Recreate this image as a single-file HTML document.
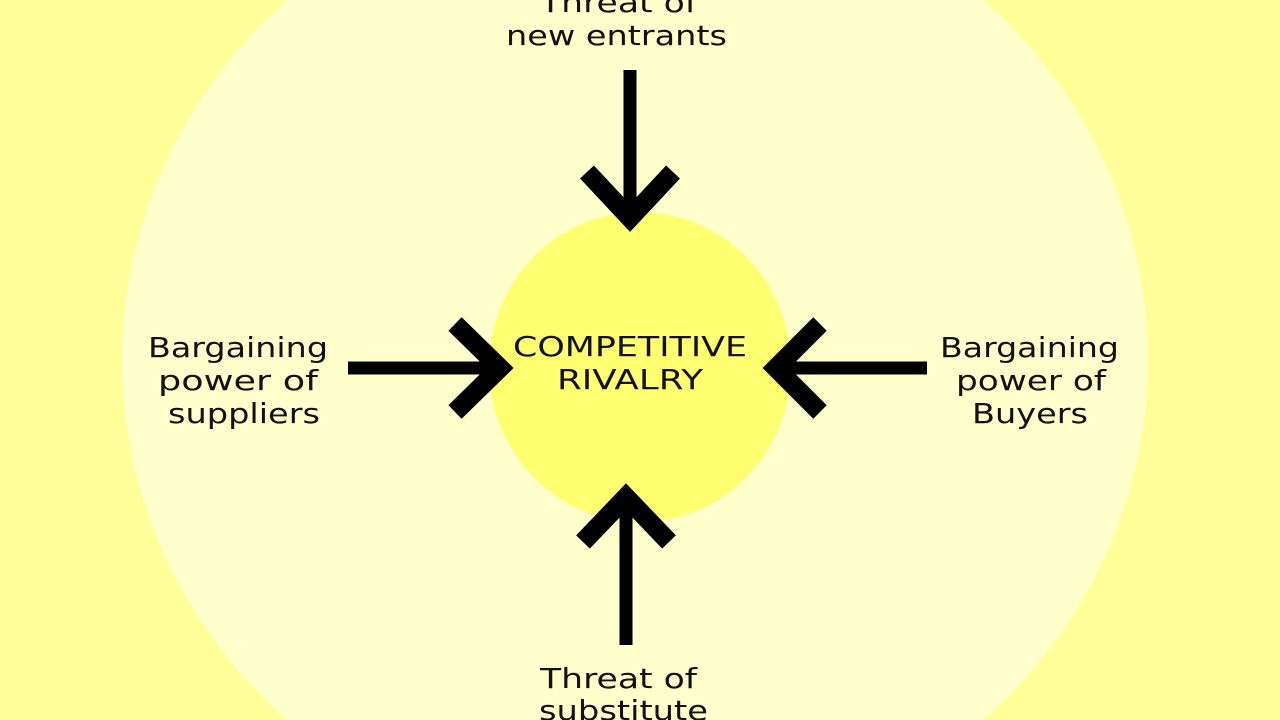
<!DOCTYPE html>
<html><head><meta charset="utf-8"><style>
html,body{margin:0;padding:0;background:#ffff99;overflow:hidden;width:1280px;height:720px;}
svg{display:block}
text{font-family:"DejaVu Sans","Liberation Sans",sans-serif;font-size:28px;fill:#111;}
</style></head><body>
<svg width="1280" height="720" viewBox="0 0 1280 720">
<rect width="1280" height="720" fill="#ffff99"/>
<ellipse cx="635" cy="360" rx="513" ry="490" fill="#ffffcc"/>
<ellipse cx="640" cy="367" rx="151" ry="155" fill="#ffff70"/>
<g stroke="#000" fill="none" stroke-linejoin="miter" stroke-miterlimit="10">
<line x1="630" y1="70" x2="630" y2="225" stroke-width="13"/>
<polyline points="587,172 630,218 673,172" stroke-width="19"/>
<line x1="626" y1="490" x2="626" y2="645" stroke-width="13"/>
<polyline points="583,542 626,497 669,542" stroke-width="19"/>
<line x1="348" y1="368" x2="505" y2="368" stroke-width="13"/>
<polyline points="455,324 500,368 455,412" stroke-width="19"/>
<line x1="775" y1="368" x2="927" y2="368" stroke-width="13"/>
<polyline points="820,324 776,368 820,412" stroke-width="19"/>
</g>
<g lengthAdjust="spacingAndGlyphs">
<text x="540" y="12" textLength="157" lengthAdjust="spacingAndGlyphs">Threat of</text>
<text x="506" y="45" textLength="221" lengthAdjust="spacingAndGlyphs">new entrants</text>
<text x="148" y="357" textLength="180" lengthAdjust="spacingAndGlyphs">Bargaining</text>
<text x="158" y="390" textLength="160" lengthAdjust="spacingAndGlyphs">power of</text>
<text x="168" y="423" textLength="152" lengthAdjust="spacingAndGlyphs">suppliers</text>
<text x="940" y="357" textLength="179" lengthAdjust="spacingAndGlyphs">Bargaining</text>
<text x="956" y="390" textLength="150" lengthAdjust="spacingAndGlyphs">power of</text>
<text x="972" y="423" textLength="116" lengthAdjust="spacingAndGlyphs">Buyers</text>
<text x="513" y="356" textLength="234" lengthAdjust="spacingAndGlyphs">COMPETITIVE</text>
<text x="557" y="389" textLength="146" lengthAdjust="spacingAndGlyphs">RIVALRY</text>
<text x="540" y="688" textLength="157" lengthAdjust="spacingAndGlyphs">Threat of</text>
<text x="539" y="720" textLength="169" lengthAdjust="spacingAndGlyphs">substitute</text>
</g>
</svg>
</body></html>
